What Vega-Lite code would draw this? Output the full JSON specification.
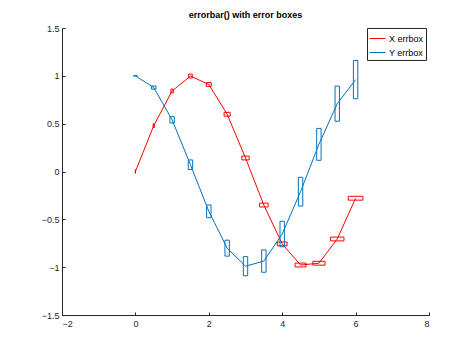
{
  "$schema": "https://vega.github.io/schema/vega-lite/v6.json",
  "autosize": {"type": "none"},
  "width": 367,
  "height": 287,
  "padding": {"left": 62, "top": 28, "right": 45, "bottom": 40},
  "background": "white",
  "title": {"text": "errorbar() with error boxes", "font": "Liberation Sans", "fontSize": 9, "fontWeight": "bold", "color": "#000000", "offset": 4},
  "config": {
    "view": {"stroke": null},
    "axis": {"grid": false, "domainColor": "#262626", "tickColor": "#262626", "labelColor": "#262626", "labelFont": "Liberation Sans", "labelFontSize": 9, "title": null, "tickSize": -3, "domainWidth": 1, "tickWidth": 1}
  },
  "data": {"values": [
    {"series": "X errbox", "x": 0, "y": 0, "xlo": 0, "xhi": 0, "ylo": -0.02, "yhi": 0.02},
    {"series": "X errbox", "x": 0.5, "y": 0.4794, "xlo": 0.4833, "xhi": 0.5167, "ylo": 0.4594, "yhi": 0.4994},
    {"series": "X errbox", "x": 1, "y": 0.8415, "xlo": 0.9667, "xhi": 1.0333, "ylo": 0.8215, "yhi": 0.8615},
    {"series": "X errbox", "x": 1.5, "y": 0.9975, "xlo": 1.45, "xhi": 1.55, "ylo": 0.9775, "yhi": 1.0175},
    {"series": "X errbox", "x": 2, "y": 0.9093, "xlo": 1.9333, "xhi": 2.0667, "ylo": 0.8893, "yhi": 0.9293},
    {"series": "X errbox", "x": 2.5, "y": 0.5985, "xlo": 2.4167, "xhi": 2.5833, "ylo": 0.5785, "yhi": 0.6185},
    {"series": "X errbox", "x": 3, "y": 0.1411, "xlo": 2.9, "xhi": 3.1, "ylo": 0.1211, "yhi": 0.1611},
    {"series": "X errbox", "x": 3.5, "y": -0.3508, "xlo": 3.3833, "xhi": 3.6167, "ylo": -0.3708, "yhi": -0.3308},
    {"series": "X errbox", "x": 4, "y": -0.7568, "xlo": 3.8667, "xhi": 4.1333, "ylo": -0.7768, "yhi": -0.7368},
    {"series": "X errbox", "x": 4.5, "y": -0.9775, "xlo": 4.35, "xhi": 4.65, "ylo": -0.9975, "yhi": -0.9575},
    {"series": "X errbox", "x": 5, "y": -0.9589, "xlo": 4.8333, "xhi": 5.1667, "ylo": -0.9789, "yhi": -0.9389},
    {"series": "X errbox", "x": 5.5, "y": -0.7055, "xlo": 5.3167, "xhi": 5.6833, "ylo": -0.7255, "yhi": -0.6855},
    {"series": "X errbox", "x": 6, "y": -0.2794, "xlo": 5.8, "xhi": 6.2, "ylo": -0.2994, "yhi": -0.2594},
    {"series": "Y errbox", "x": 0, "y": 1, "xlo": -0.06, "xhi": 0.06, "ylo": 1, "yhi": 1},
    {"series": "Y errbox", "x": 0.5, "y": 0.8776, "xlo": 0.44, "xhi": 0.56, "ylo": 0.8609, "yhi": 0.8943},
    {"series": "Y errbox", "x": 1, "y": 0.5403, "xlo": 0.94, "xhi": 1.06, "ylo": 0.507, "yhi": 0.5736},
    {"series": "Y errbox", "x": 1.5, "y": 0.0707, "xlo": 1.44, "xhi": 1.56, "ylo": 0.0207, "yhi": 0.1207},
    {"series": "Y errbox", "x": 2, "y": -0.4161, "xlo": 1.94, "xhi": 2.06, "ylo": -0.4828, "yhi": -0.3494},
    {"series": "Y errbox", "x": 2.5, "y": -0.8011, "xlo": 2.44, "xhi": 2.56, "ylo": -0.8844, "yhi": -0.7178},
    {"series": "Y errbox", "x": 3, "y": -0.99, "xlo": 2.94, "xhi": 3.06, "ylo": -1.09, "yhi": -0.89},
    {"series": "Y errbox", "x": 3.5, "y": -0.9365, "xlo": 3.44, "xhi": 3.56, "ylo": -1.0532, "yhi": -0.8198},
    {"series": "Y errbox", "x": 4, "y": -0.6536, "xlo": 3.94, "xhi": 4.06, "ylo": -0.7869, "yhi": -0.5203},
    {"series": "Y errbox", "x": 4.5, "y": -0.2108, "xlo": 4.44, "xhi": 4.56, "ylo": -0.3608, "yhi": -0.0608},
    {"series": "Y errbox", "x": 5, "y": 0.2837, "xlo": 4.94, "xhi": 5.06, "ylo": 0.117, "yhi": 0.4504},
    {"series": "Y errbox", "x": 5.5, "y": 0.7087, "xlo": 5.44, "xhi": 5.56, "ylo": 0.5254, "yhi": 0.892},
    {"series": "Y errbox", "x": 6, "y": 0.9602, "xlo": 5.94, "xhi": 6.06, "ylo": 0.7602, "yhi": 1.1602}
  ]},
  "layer": [
    {
      "mark": {"type": "line", "strokeWidth": 1},
      "encoding": {
        "x": {"field": "x", "type": "quantitative", "scale": {"domain": [-2, 8], "nice": false, "zero": false}, "axis": {"values": [-2, 0, 2, 4, 6, 8], "labelPadding": 7}},
        "y": {"field": "y", "type": "quantitative", "scale": {"domain": [-1.5, 1.5], "nice": false, "zero": false}, "axis": {"values": [-1.5, -1, -0.5, 0, 0.5, 1, 1.5], "labelPadding": 6, "format": "~g"}},
        "color": {"field": "series", "type": "nominal", "scale": {"domain": ["X errbox", "Y errbox"], "range": ["#ff0000", "#0072bd"]},
          "legend": {"title": null, "orient": "none", "legendX": 305, "legendY": 0, "strokeColor": "#262626", "fillColor": "white", "padding": 2, "symbolType": "stroke", "symbolSize": 256, "symbolStrokeWidth": 1, "labelFont": "Liberation Sans", "labelFontSize": 9, "labelColor": "#000000", "labelOffset": 3, "rowPadding": -4}},
        "detail": {"field": "series"}
      }
    },
    {
      "mark": {"type": "rect", "filled": false, "strokeWidth": 1, "strokeJoin": "miter"},
      "encoding": {
        "x": {"field": "xlo", "type": "quantitative"},
        "x2": {"field": "xhi"},
        "y": {"field": "ylo", "type": "quantitative"},
        "y2": {"field": "yhi"},
        "color": {"field": "series", "type": "nominal"}
      }
    }
  ]
}
